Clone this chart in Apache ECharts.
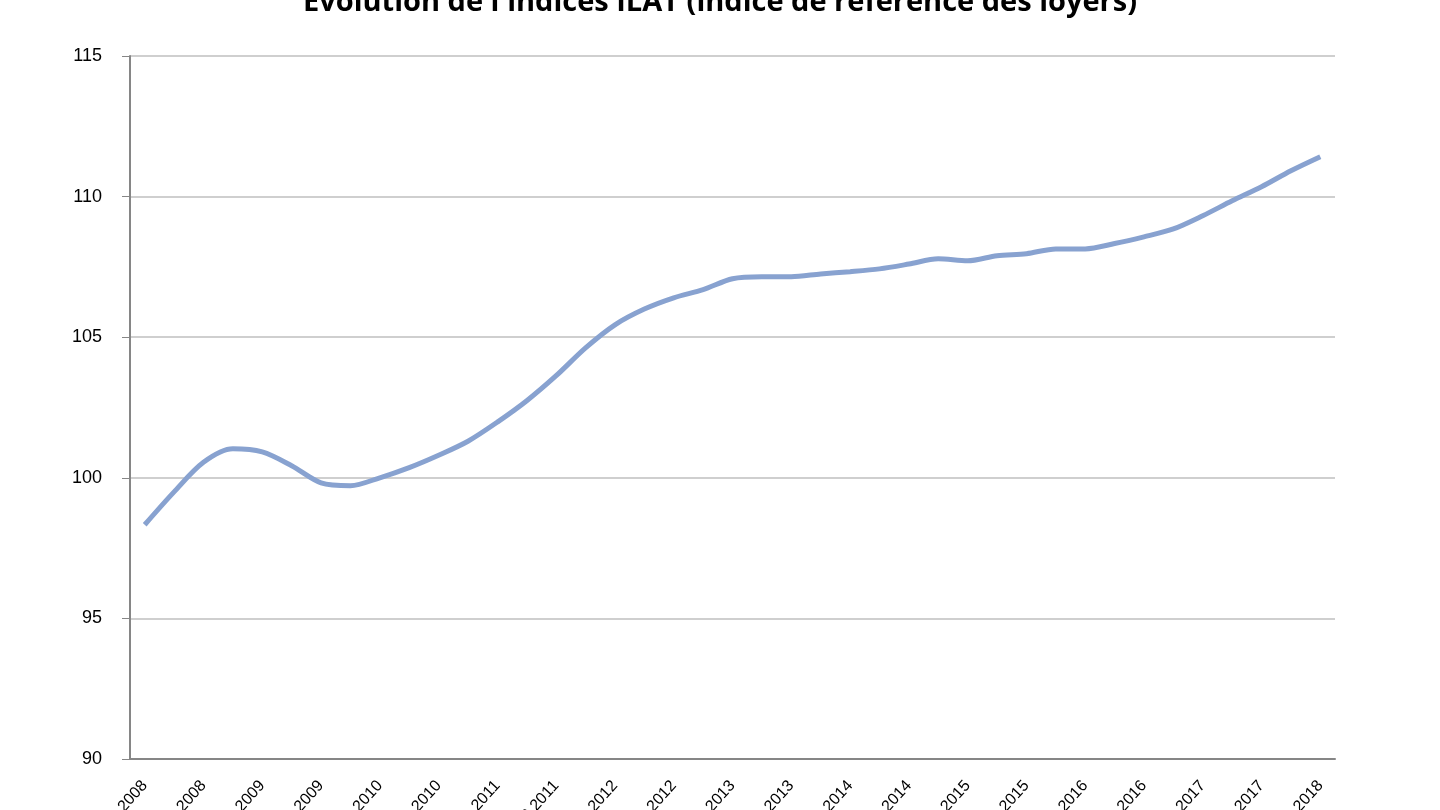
<!DOCTYPE html>
<html>
<head>
<meta charset="utf-8">
<title>ILAT</title>
<script src="https://cdn.jsdelivr.net/npm/echarts@6/dist/echarts.min.js"></script>
<style>
  html, body { margin: 0; padding: 0; background: #fff; }
  #chart { width: 1440px; height: 810px; }
</style>
</head>
<body>
<div id="chart"></div>
<script>
// trimestres T1 2008 -> T1 2018
const years = [2008, 2009, 2010, 2011, 2012, 2013, 2014, 2015, 2016, 2017, 2018];
const quarters = ['T1', 'T2', 'T3', 'T4'];
const categories = [];
years.forEach(y => quarters.forEach(q => {
  if (y < 2018 || q === 'T1') categories.push(q + ' ' + y);
}));

// valeurs
const ilat = [
  98.33, 99.5, 100.55, 101.03, 100.92, 100.43, 99.82, 99.72,
  100.0, 100.36, 100.8, 101.3, 101.98, 102.74, 103.63, 104.62,
  105.44, 106.0, 106.4, 106.69, 107.08, 107.15, 107.15, 107.25,
  107.33, 107.43, 107.6, 107.79, 107.72, 107.9, 107.97, 108.14,
  108.14, 108.33, 108.57, 108.85, 109.32, 109.85, 110.35, 110.92,
  111.42
];

const yTicks = { min: 90, max: 115, step: 5 };

const chart = echarts.init(document.getElementById('chart'));
chart.setOption({
  animation: false,
  title: {
    text: "Evolution de l'indices ILAT (indice de référence des loyers)",
    left: 'center',
    top: -17,
    textStyle: {
      fontFamily: 'Open Sans, Liberation Sans, sans-serif',
      fontSize: 29,
      fontWeight: 'bold',
      color: '#000'
    }
  },
  // les étiquettes de l'axe X débordent en bas, comme sur l'original
  grid: { left: 130, right: 105, top: 56, bottom: 51, outerBoundsMode: 'none', containLabel: false },
  xAxis: {
    type: 'category',
    data: categories,
    boundaryGap: true,
    axisLine: { lineStyle: { color: '#868686', width: 2 } },
    axisTick: { interval: 0, length: 6, lineStyle: { color: '#868686' } },
    axisLabel: {
      interval: 1,
      rotate: 48,
      margin: 24,
      color: '#000',
      fontSize: 16,
      fontFamily: 'Liberation Sans, sans-serif'
    }
  },
  yAxis: {
    type: 'value',
    min: yTicks.min,
    max: yTicks.max,
    interval: yTicks.step,
    axisLine: { show: true, lineStyle: { color: '#868686', width: 2 } },
    axisTick: { show: true, length: 8, lineStyle: { color: '#868686' } },
    axisLabel: {
      color: '#000',
      fontSize: 18,
      margin: 28,
      fontFamily: 'Liberation Sans, sans-serif'
    },
    splitLine: { lineStyle: { color: '#bfbfbf', width: 1.5 } }
  },
  series: [{
    type: 'line',
    data: ilat,
    smooth: 0.3,
    symbol: 'none',
    lineStyle: { color: '#88a2d0', width: 5 }
  }]
});
</script>
</body>
</html>
